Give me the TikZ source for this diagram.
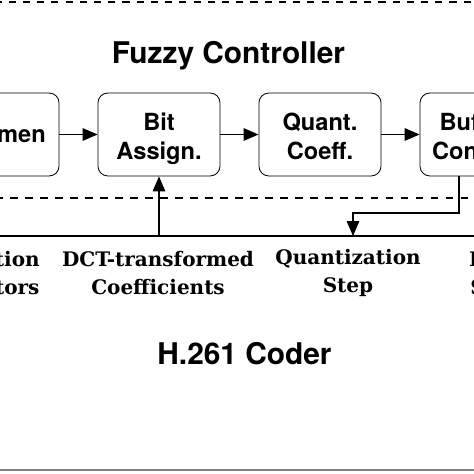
\documentclass[tikz,border=0pt]{standalone}
\usepackage{fontspec}
\usepackage{tikz}
\usepackage{amsmath}
\usetikzlibrary{arrows.meta}
\newfontfamily\helvfont{TeX Gyre Heros}
\newfontfamily\bookfont{DejaVu Serif}
\newcommand{\boxlines}[2]{\rule{0pt}{19.1pt}#1\\#2\rule[-4pt]{0pt}{4pt}}

\begin{document}
\begin{tikzpicture}[
		block/.style={draw, rounded corners=0.25cm, minimum width=3.09cm, minimum height=2.10cm, align=center, line width=0.6pt, font=\helvfont\bfseries\fontsize{17}{21.5}\selectfont},
		blocktext/.style={inner sep=0pt, font=\helvfont\bfseries\fontsize{17}{21.5}\selectfont},
		flow/.style={-{Triangle[length=0.38cm,width=0.32cm]}, line width=0.8pt},
		heading/.style={font=\helvfont\bfseries\fontsize{21.5}{26}\selectfont},
		signal/.style={align=center, inner sep=0pt, font=\bookfont\bfseries\fontsize{14.4}{20.1}\selectfont}
	]
			\useasboundingbox (0,0) rectangle (12,12);
			\clip (0,0) rectangle (12,12);
			\draw[line width=0.8pt, dash pattern=on 0.18cm off 0.18cm] (-0.5,11.95) -- (12.5,11.95); % top of Fuzzy Controller
			\node[heading, anchor=base] (fuzzy) at (5.785,10.40) {Fuzzy Controller}; % Label for Fuzzy Controller
			\node[block] (adjust) at (-0.05,8.595) {}; % Box 1
			\node[blocktext, anchor=base east] (adjusttext) at (1.165,8.38) {tmen}; % Text of Box 1
			\node[block] (bitassign) at (4.025,8.595) {\boxlines{Bit}{Assign.}}; % Box 2
			\node[block] (quant) at (8.101,8.595) {\boxlines{Quant.}{Coeff.}}; % Box 3
			\node[block, minimum width=2.734cm] (buffer) at (12.0,8.595) {\boxlines{Buffer}{Control}}; % Box 4
			\draw[flow] (adjust) -- (bitassign);
			\draw[flow] (bitassign) -- (quant);
			\draw[flow] (quant) -- (buffer);
			\draw[line width=0.8pt, dash pattern=on 0.2cm off 0.18cm] (-0.5,6.987) -- (12.5,6.987); % bottom of Fuzzy Controller
			\coordinate (coderleft) at (-0.5,6.025);
			\coordinate (coderright) at (12.5,6.025);
			\coordinate (qstep) at (8.937,6.025);
			\draw[line width=0.8pt] (coderleft) -- (coderright); % top of H.261 Coder
			\draw[flow] (bitassign.south |- coderleft) -- (bitassign.south);
			\draw[flow] ([xshift=-0.38cm]buffer.south) |- (8.937,6.608) -- (qstep);
			\node[signal, anchor=east] (motion) at (1.01,5.09) {tion\\tors};
			\node[signal] (dct) at (4.0,5.09) {DCT-transformed\\Coefficients};
			\node[signal] (quantstep) at (8.81,5.09) {Quantization\\Step};
			\node[signal, anchor=west] (status) at (11.87,5.09) {B\\S};
			\node[heading, anchor=base] (coder) at (6.19,2.76) {H.261 Coder}; % Label for H.261 Coder
			\draw[gray, line width=1.5pt] (-0.5,0.10) -- (12.5,0.10); % bottom of H.261 Coder
		\end{tikzpicture}
\end{document}
